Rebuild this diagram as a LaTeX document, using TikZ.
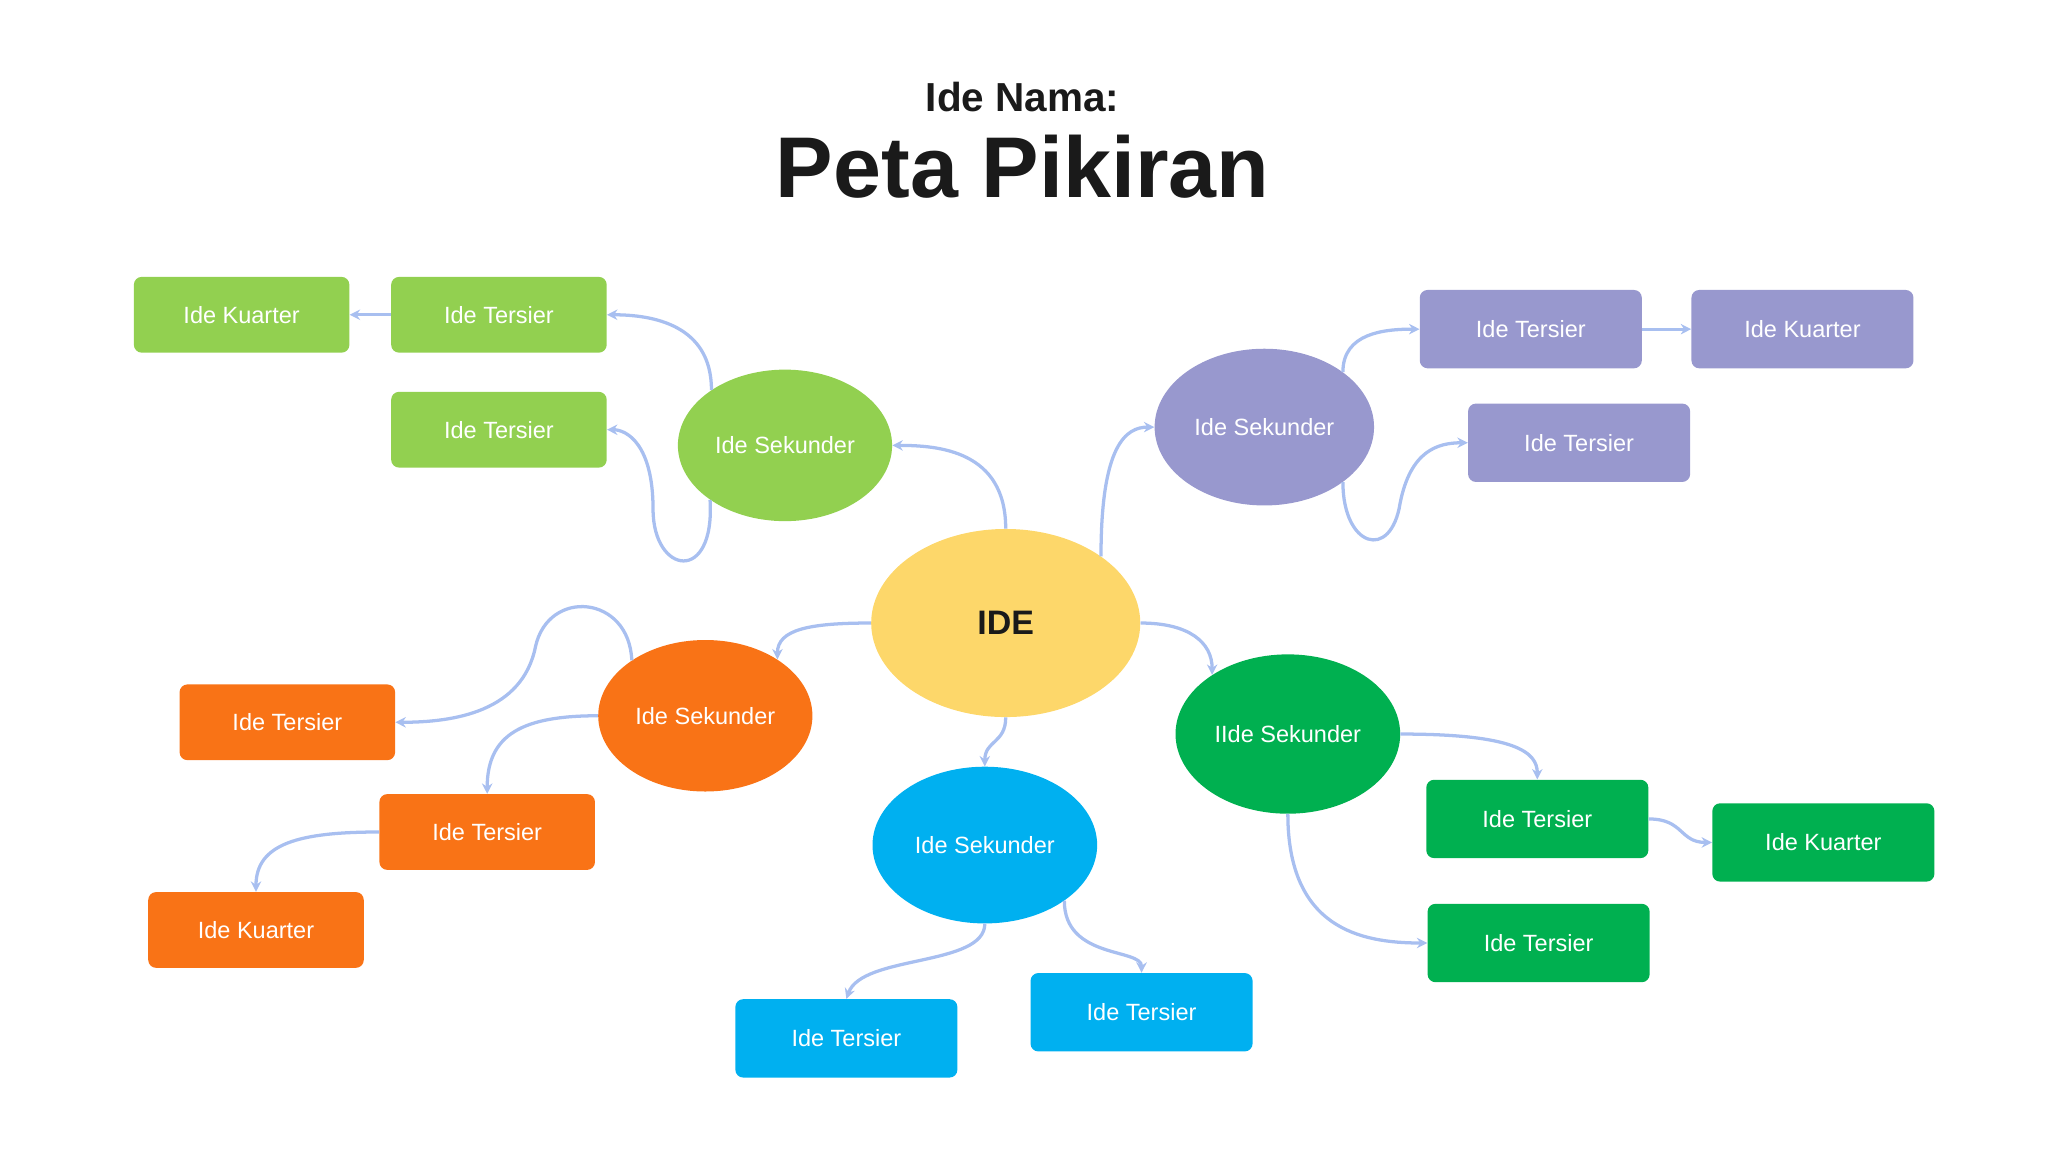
\documentclass[tikz,border=0pt]{standalone}
\usepackage{fontspec}
\setmainfont{Liberation Sans}
\usetikzlibrary{arrows.meta,shapes.geometric}
\definecolor{cg}{HTML}{92D050}
\definecolor{cp}{HTML}{9898CE}
\definecolor{co}{HTML}{F97316}
\definecolor{cb}{HTML}{00B0F0}
\definecolor{cd}{HTML}{00B050}
\definecolor{cy}{HTML}{FDD76A}
\definecolor{cl}{HTML}{A8BFF0}
\definecolor{ct}{HTML}{1A1A1A}
\tikzset{
 box/.style={draw=none,rounded corners=6pt,minimum width=165pt,minimum height=58pt,text=white,font=\fontsize{18}{20}\selectfont},
 wbox/.style={box,minimum width=170pt,minimum height=60pt},
 ell/.style={ellipse,draw=none,text=white,font=\fontsize{18}{20}\selectfont,inner sep=0pt},
 con/.style={draw=cl,line width=2.5pt,-{Stealth[length=8pt,width=8pt]}},
 sl/.style={draw=cl,line width=2.5pt}
}
\begin{document}
\begin{tikzpicture}[x=1pt,y=-1pt]
\useasboundingbox (0,0) rectangle (1568,882);
\node[font=\bfseries\fontsize{31}{34}\selectfont,text=ct] (t1) at (783,74) {Ide Nama:};
\node[font=\bfseries\fontsize{66}{70}\selectfont,text=ct] (t2) at (783,128) {Peta Pikiran};

\node[ell,fill=cy,minimum width=206pt,minimum height=144pt,text=ct,font=\bfseries\fontsize{26}{28}\selectfont] (ide) at (770,477) {IDE};

\node[ell,fill=cg,minimum width=164pt,minimum height=116pt] (g) at (601,341) {Ide Sekunder};
\node[box,fill=cg] (gk) at (185,241) {Ide Kuarter};
\node[box,fill=cg] (gt1) at (382,241) {Ide Tersier};
\node[box,fill=cg] (gt2) at (382,329) {Ide Tersier};

\node[ell,fill=cp,minimum width=168pt,minimum height=120pt] (p) at (968,327) {Ide Sekunder};
\node[wbox,fill=cp] (pt1) at (1172,252) {Ide Tersier};
\node[wbox,fill=cp] (pk) at (1380,252) {Ide Kuarter};
\node[wbox,fill=cp] (pt2) at (1209,339) {Ide Tersier};

\node[ell,fill=co,minimum width=164pt,minimum height=116pt] (o) at (540,548) {Ide Sekunder};
\node[box,fill=co] (ot1) at (220,553) {Ide Tersier};
\node[box,fill=co] (ot2) at (373,637) {Ide Tersier};
\node[box,fill=co] (ok) at (196,712) {Ide Kuarter};

\node[ell,fill=cb,minimum width=172pt,minimum height=120pt] (b) at (754,647) {Ide Sekunder};
\node[wbox,fill=cb] (bt1) at (648,795) {Ide Tersier};
\node[wbox,fill=cb] (bt2) at (874,775) {Ide Tersier};

\node[ell,fill=cd,minimum width=172pt,minimum height=122pt] (d) at (986,562) {IIde Sekunder};
\node[wbox,fill=cd] (dt1) at (1177,627) {Ide Tersier};
\node[wbox,fill=cd] (dk) at (1396,645) {Ide Kuarter};
\node[wbox,fill=cd] (dt2) at (1178,722) {Ide Tersier};

% connectors
\draw[con] (ide.north) .. controls +(0,-60) and +(35,0) .. (g.east);
\draw[con] (g.143) .. controls +(0,-50) and +(35,0) .. (gt1.east);
\draw[con] (g.216) .. controls +(4,65) and +(0,50) .. (500,390) .. controls +(0,-50) and +(15,0) .. (gt2.east);
\draw[con] (gt1.west) -- (gk.east);

\draw[con] (ide.35) .. controls +(0,-85) and +(-22,0) .. (p.west);
\draw[con] (p.35) .. controls +(0,-30) and +(-27,0) .. (pt1.west);
\draw[con] (p.325) .. controls +(0,50) and +(-7,45) .. (1072,385) .. controls +(8,-40) and +(-23,0) .. (pt2.west);
\draw[con] (pt1.east) -- (pk.west);

\draw[con] (ide.west) .. controls +(-47,0) and +(0,-23) .. (o.38);
\draw[con] (o.143) .. controls +(-2,-50) and +(10,-45) .. (410,495) .. controls +(-10,50) and +(45,0) .. (ot1.east);
\draw[con] (o.west) .. controls +(-57,0) and +(0,-46) .. (ot2.north);
\draw[con] (ot2.west) .. controls +(-61,0) and +(0,-37) .. (ok.north);

\draw[con] (ide.south) .. controls +(0,20) and +(0,-20) .. (b.north);
\draw[con] (b.south) .. controls +(0,33) and +(12,-34) .. (bt1.north);
\draw[con] (b.325) .. controls +(0,45) and +(0,-19) .. (bt2.north);

\draw[con] (ide.east) .. controls +(37,0) and +(0,-25) .. (d.142);
\draw[con] (d.east) .. controls +(88,0) and +(0,-21) .. (dt1.north);
\draw[con] (dt1.east) .. controls +(27,0) and +(-25,0) .. (dk.west);
\draw[con] (d.south) .. controls +(0,87) and +(-52,0) .. (dt2.west);
\end{tikzpicture}
\end{document}
